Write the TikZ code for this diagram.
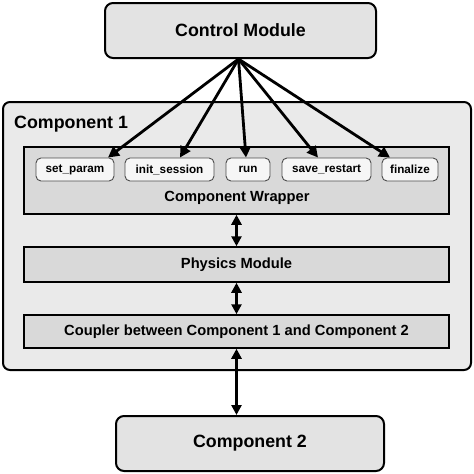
\documentclass[tikz,border=0pt]{standalone}
\usepackage{fontspec}
\setmainfont{Liberation Sans}
\usetikzlibrary{arrows.meta}
\definecolor{ctrlfill}{HTML}{E3E3E3}
\definecolor{outerfill}{HTML}{EAEAEA}
\definecolor{innerfill}{HTML}{D9D9D9}
\definecolor{btnfill}{HTML}{F6F6F6}
\begin{document}
\begin{tikzpicture}[x=1pt,y=-1pt,
  topbox/.style={draw=black, line width=2pt, fill=ctrlfill, rounded corners=8pt, font=\fontsize{17.8}{20}\selectfont\bfseries, inner sep=0pt},
  outerbox/.style={draw=black, line width=2pt, fill=outerfill, rounded corners=7pt, inner sep=0pt},
  layerbox/.style={draw=black, line width=1.5pt, fill=innerfill, inner sep=0pt, font=\fontsize{14.7}{17}\selectfont\bfseries},
  btn/.style={draw=black!70, line width=0.9pt, fill=btnfill, rounded corners=5pt, minimum height=23pt, inner sep=0pt, font=\fontsize{11.7}{14}\selectfont\bfseries},
  arr/.style={line width=2.8pt, -{Triangle[length=11pt,width=11pt]}},
  darr/.style={line width=2.8pt, {Triangle[length=10pt,width=10pt]}-{Triangle[length=10pt,width=10pt]}}
]
\useasboundingbox (0,0) rectangle (474,474);
\node[topbox, minimum width=271pt, minimum height=55pt] (ctrl) at (240.5,30.5) {Control Module};
\node[outerbox, minimum width=468pt, minimum height=268pt] (comp1) at (237,236) {};
\node[anchor=west, inner sep=0pt, font=\fontsize{17.8}{20}\selectfont\bfseries] (c1label) at (14,124) {Component 1};
\node[layerbox, minimum width=425pt, minimum height=67pt] (wrap) at (236.5,180.5) {};
\node[inner sep=0pt, font=\fontsize{14.7}{17}\selectfont\bfseries] (wraplabel) at (237,198) {Component Wrapper};
\node[btn, minimum width=78pt] (setp) at (75,169.5) {set\_param};
\node[btn, minimum width=89pt] (inits) at (169.5,169.5) {init\_session};
\node[btn, minimum width=44pt] (runb) at (248,169.5) {run};
\node[btn, minimum width=89pt] (saver) at (326.5,169.5) {save\_restart};
\node[btn, minimum width=56pt] (fin) at (410,169.5) {finalize};
\node[layerbox, minimum width=425pt, minimum height=35pt] (phys) at (236.5,264.5) {Physics Module};
\node[layerbox, minimum width=425pt, minimum height=33pt] (coup) at (236.5,331.5) {Coupler between Component 1 and Component 2};
\node[topbox, minimum width=268pt, minimum height=55pt] (comp2) at (250,443.5) {Component 2};
\draw[arr] ([xshift=-2pt]ctrl.south) -- ([xshift=33pt]setp.north);
\draw[arr] ([xshift=-2pt]ctrl.south) -- ([xshift=10.5pt]inits.north);
\draw[arr] ([xshift=-2pt]ctrl.south) -- ([xshift=-2pt]runb.north);
\draw[arr] ([xshift=-2pt]ctrl.south) -- ([xshift=-8.5pt]saver.north);
\draw[arr] ([xshift=-2pt]ctrl.south) -- ([xshift=-20pt]fin.north);
\draw[darr] (wrap.south) -- (phys.north);
\draw[darr] (phys.south) -- (coup.north);
\draw[darr] (coup.south) -- (coup.south |- comp2.north);
\end{tikzpicture}
\end{document}
